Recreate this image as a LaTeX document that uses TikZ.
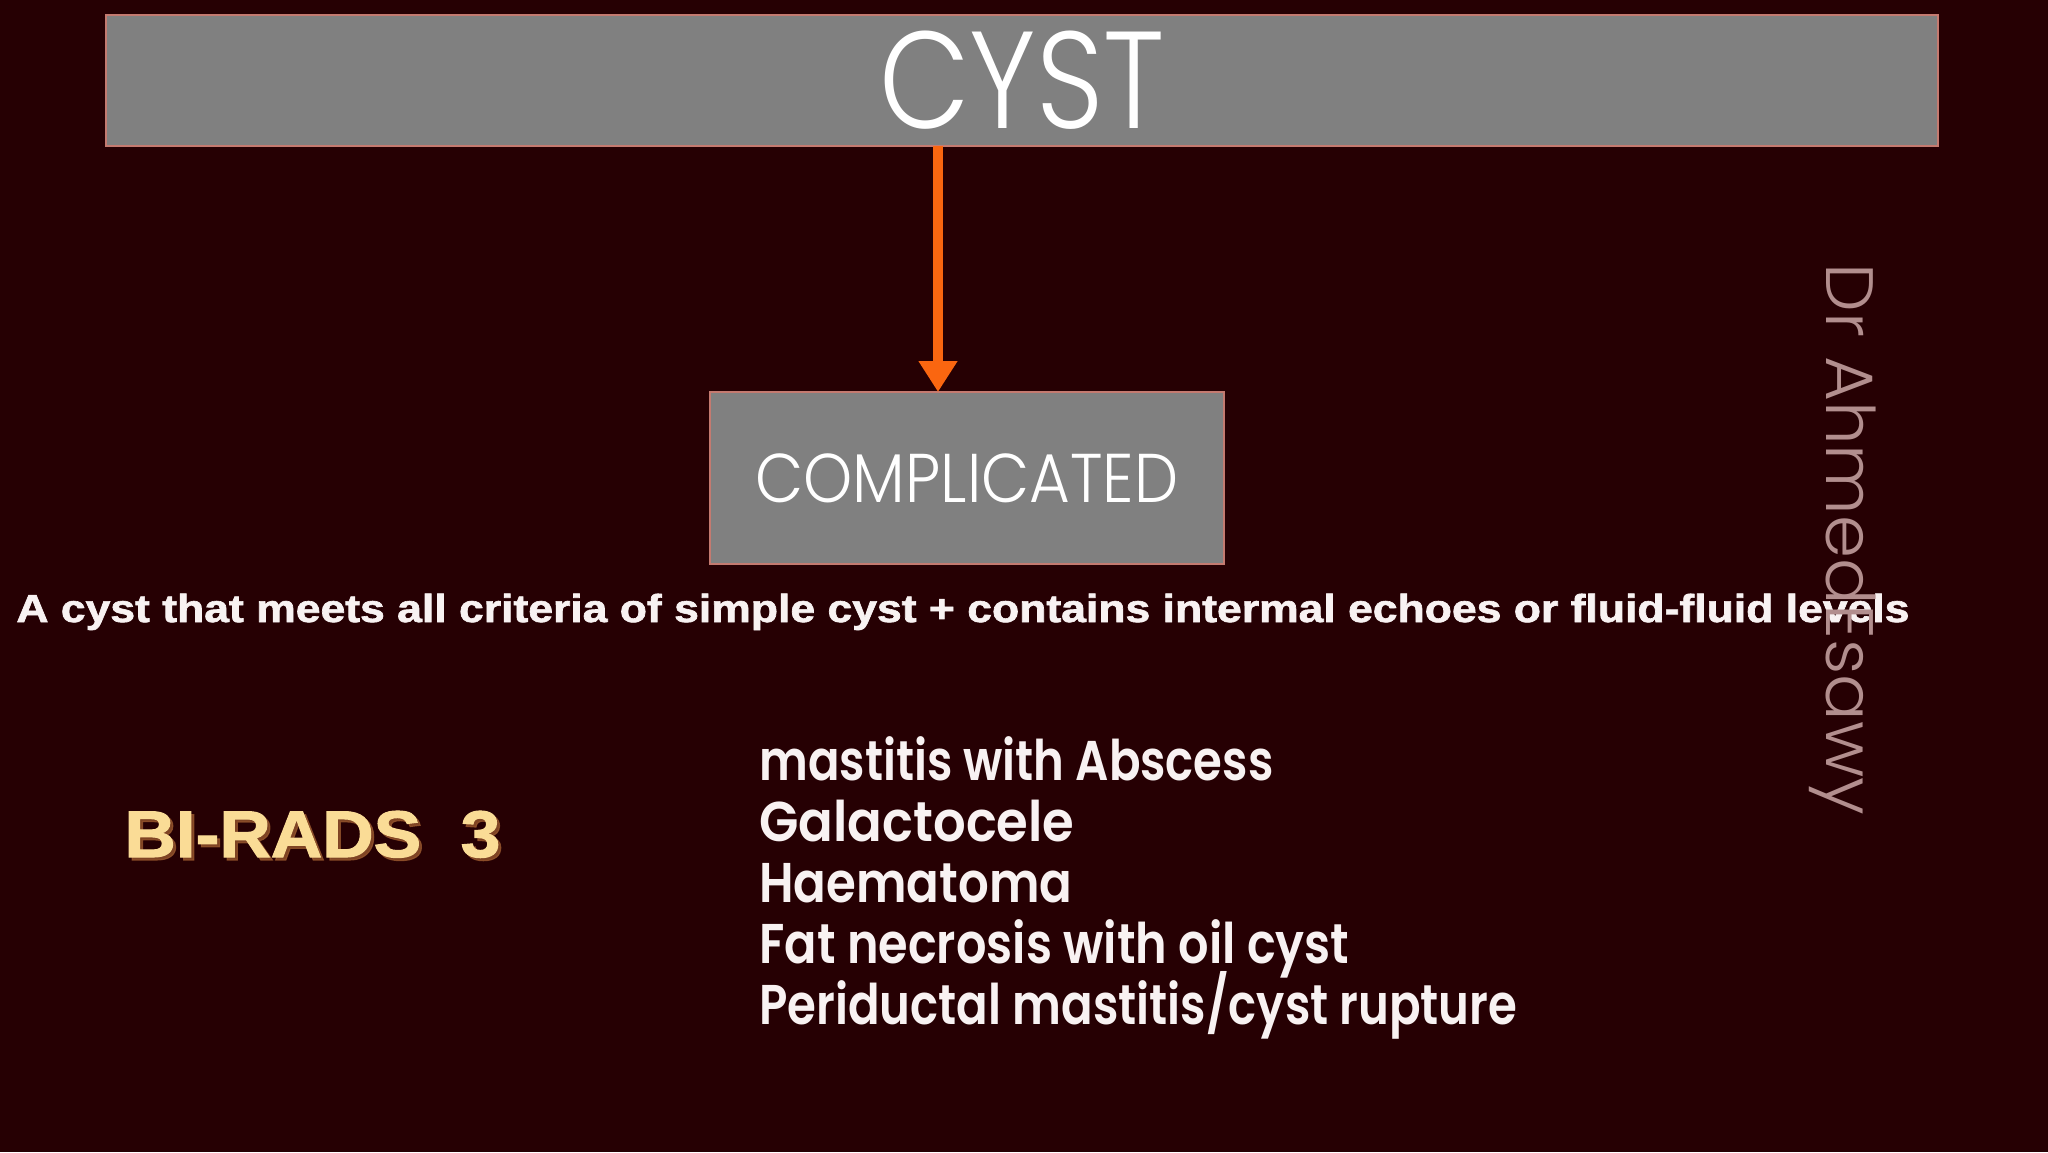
\documentclass[tikz,border=0pt]{standalone}
\usepackage{fontspec}
\usepackage{graphicx}
\setmainfont{Poppins}
\newfontfamily\thinfont{Poppins Light}
\newfontfamily\medfont{Poppins SemiBold}
\newfontfamily\heavyfont{Liberation Sans}[BoldFeatures={FakeBold=1.6}]
\usetikzlibrary{arrows.meta}
\definecolor{bg}{RGB}{38,0,3}
\definecolor{boxfill}{RGB}{128,128,128}
\definecolor{boxline}{RGB}{196,122,112}
\definecolor{arrowc}{RGB}{250,102,16}
\definecolor{txt}{RGB}{248,242,242}
\definecolor{gold}{RGB}{250,220,150}
\definecolor{goldglow}{RGB}{150,85,45}
\definecolor{wm}{RGB}{178,142,142}
\begin{document}
\begin{tikzpicture}[x=0.5pt,y=-0.5pt,
  box/.style={draw=boxline, line width=1.2pt, fill=boxfill, inner sep=0pt, outer sep=0pt, text=white},
  conn/.style={draw=arrowc, line width=5pt, -{Triangle[width=18.5pt,length=15.5pt]}},
  listitem/.style={anchor=base west, inner sep=0pt, text=txt, font=\medfont\fontsize{28}{30}\selectfont}
]
\fill[bg] (0,0) rectangle (2048,1152);
\useasboundingbox (0,0) rectangle (2048,1152);

\node[box, minimum width=916pt, minimum height=65.5pt] (cyst) at (1022,80.5)
  {\thinfont\fontsize{69}{70}\selectfont\resizebox{143pt}{\height}{CYST}};
\node[box, minimum width=257pt, minimum height=86pt] (comp) at (967,478)
  {\thinfont\fontsize{34.5}{36}\selectfont\resizebox{211.5pt}{\height}{COMPLICATED}};

\coordinate (ax) at (938,0);
\draw[conn] (cyst.south -| ax) -- (comp.north -| ax);

\node[anchor=base west, inner sep=0pt, text=txt, font=\heavyfont\bfseries\fontsize{19.5}{21}\selectfont] (crit) at (16,622)
  {\resizebox{946.5pt}{\height}{A cyst that meets all criteria of simple cyst + contains intermal echoes or fluid-fluid levels}};

\node[anchor=base west, inner sep=0pt, text=goldglow, opacity=0.8, font=\heavyfont\bfseries\fontsize{33}{35}\selectfont] (biradsglow) at (127,860)
  {\resizebox{188pt}{\height}{BI-RADS\ \ 3}};
\node[anchor=base west, inner sep=0pt, text=gold, font=\heavyfont\bfseries\fontsize{33}{35}\selectfont] (birads) at (124,857)
  {\resizebox{188pt}{\height}{BI-RADS\ \ 3}};

\node[listitem] (l1) at (759,780) {\resizebox{257pt}{\height}{mastitis with Abscess}};
\node[listitem] (l2) at (759,841) {\resizebox{157.5pt}{\height}{Galactocele}};
\node[listitem] (l3) at (759,902) {\resizebox{156.5pt}{\height}{Haematoma}};
\node[listitem] (l4) at (759,963) {\resizebox{295pt}{\height}{Fat necrosis with oil cyst}};
\node[listitem] (l5) at (759,1024) {\resizebox{379pt}{\height}{Periductal mastitis/cyst rupture}};

\node[anchor=base west, inner sep=0pt, rotate=-90, text=wm, font=\thinfont\fontsize{33.5}{35}\selectfont] (mark) at (1826,263)
  {\resizebox{276pt}{\height}{Dr AhmedEsawy}};
\end{tikzpicture}
\end{document}
